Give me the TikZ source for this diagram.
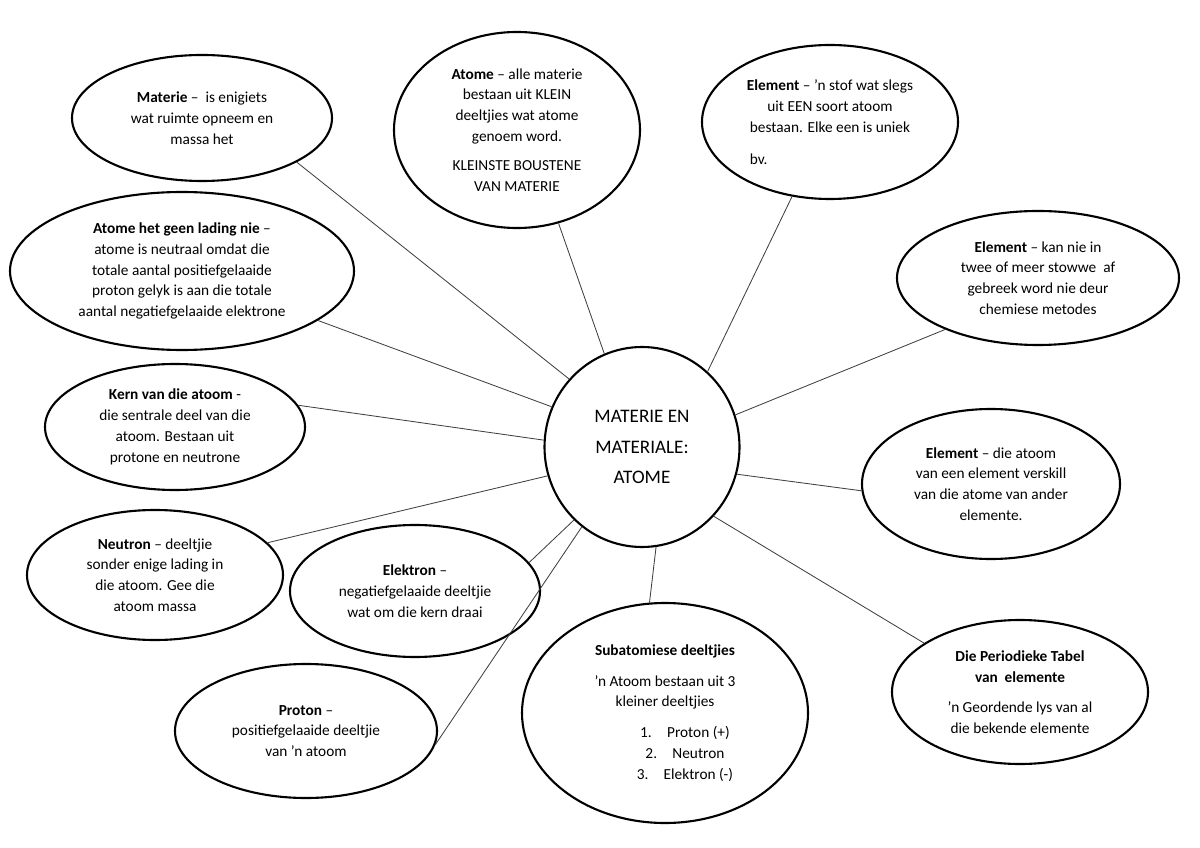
\documentclass[tikz,border=0pt]{standalone}
\usepackage{fontspec}
\setmainfont{Carlito}
\usepackage{tikz}
\usetikzlibrary{shapes.geometric}

\begin{document}
\begin{tikzpicture}[
        bubble/.style={ellipse, draw, line width=1.5pt, inner sep=0pt, align=center,
                       font=\fontsize{10.9}{14.8}\selectfont},
        hubnode/.style={bubble, font=\fontsize{13.6}{21.5}\selectfont},
        link/.style={draw=black!75, line width=0.6pt}
      ]
      \useasboundingbox (0,0) rectangle (30,-21.2);

      \node[hubnode, minimum width=4.875cm, minimum height=5cm] (hub) at (16.05,-11.175)
        {MATERIE EN\\MATERIALE:\\ATOME};

      \node[bubble, minimum width=6.5cm, minimum height=3.15cm] (mat) at (5.05,-2.95)
        {\textbf{Materie} --\ \ is enigiets\\wat ruimte opneem en\\massa het};
      \node[bubble, minimum width=6.15cm, minimum height=4.9cm] (atm) at (12.925,-3.25)
        {\textbf{Atome} -- alle materie\\bestaan uit KLEIN\\deeltjies wat atome\\genoem word.\\[6pt]KLEINSTE BOUSTENE\\VAN MATERIE};
      \node[bubble, minimum width=6.4cm, minimum height=3.85cm] (elone) at (20.75,-3.05)
        {\textbf{Element} -- ’n stof wat slegs\\uit EEN soort atoom\\bestaan. Elke een is uniek\\[8pt]\rlap{bv.}\phantom{bestaan. Elke een is uniek}};
      \node[bubble, minimum width=8.6cm, minimum height=3.95cm] (lad) at (4.55,-6.775)
        {\textbf{Atome het geen lading nie} --\\atome is neutraal omdat die\\totale aantal positiefgelaaide\\proton gelyk is aan die totale\\aantal negatiefgelaaide elektrone};
      \node[bubble, minimum width=7.05cm, minimum height=3.35cm] (eltwo) at (25.95,-6.95)
        {\textbf{Element} -- kan nie in\\twee of meer stowwe\ \ af\\gebreek word nie deur\\chemiese metodes};
      \node[bubble, minimum width=6.5cm, minimum height=3.15cm] (kern) at (4.375,-10.675)
        {\textbf{Kern van die atoom} -\\die sentrale deel van die\\atoom. Bestaan uit\\protone en neutrone};
      \node[bubble, minimum width=6.45cm, minimum height=3.75cm] (elthree) at (24.775,-12.1)
        {\textbf{Element} -- die atoom\\van een element verskill\\van die atome van ander\\elemente.};
      \node[bubble, minimum width=6.4cm, minimum height=3.25cm] (neu) at (3.875,-14.375)
        {\textbf{Neutron} -- deeltjie\\sonder enige lading in\\die atoom. Gee die\\atoom massa};
      \node[bubble, minimum width=6.25cm, minimum height=3.3cm] (ele) at (10.375,-14.775)
        {\textbf{Elektron} --\\negatiefgelaaide deeltjie\\wat om die kern draai};
      \node[bubble, minimum width=6.55cm, minimum height=3.35cm] (pro) at (7.65,-18.275)
        {\textbf{Proton} --\\positiefgelaaide deeltjie\\van ’n atoom};
      \node[bubble, minimum width=7.15cm, minimum height=5.5cm] (sub) at (16.625,-17.825)
        {\textbf{Subatomiese deeltjies}\\[7pt]’n Atoom bestaan uit 3\\kleiner deeltjies\\[7pt]
         \hspace*{2.6em}1.\quad Proton (+)\\\hspace*{2.6em}2.\quad Neutron\\\hspace*{2.6em}3.\quad Elektron (-)};
      \node[bubble, minimum width=6.4cm, minimum height=3.6cm] (per) at (25.5,-17.3)
        {\textbf{Die Periodieke Tabel}\\\textbf{van\ \ elemente}\\[7pt]’n Geordende lys van al\\die bekende elemente};

      % spokes
      \foreach \a/\b in {hub.137/mat.-25, hub.112/atm.-66, hub.49/elone.-117,
                         hub.156/lad.-20, hub.19/eltwo.209, hub.176/kern.10,
                         hub.-16/elthree.183, hub.197/neu.16, hub.227/ele.14,
                         hub.233/pro.-6, hub.-82/sub.98, hub.-44/per.153}
        \draw[link] (\a) -- (\b);
    \end{tikzpicture}
\end{document}
